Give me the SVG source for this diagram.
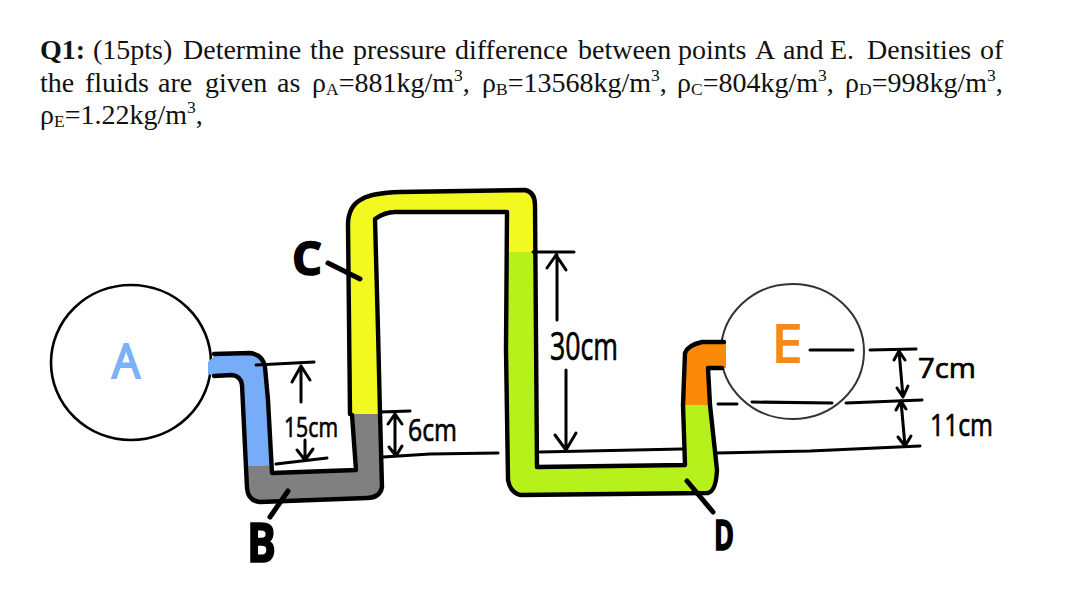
<svg xmlns="http://www.w3.org/2000/svg" width="1073" height="590" viewBox="0 0 1073 590">
<style>
.q{font-family:"Liberation Serif","Times New Roman",serif;font-size:28px;fill:#111}
.s{font-size:17.5px}
.o{fill:none;stroke:#000;stroke-width:4.4;stroke-linecap:round;stroke-linejoin:round}
.l{fill:none;stroke:#000;stroke-width:3;stroke-linecap:round;stroke-linejoin:round}
.p{fill:none;stroke:#000;stroke-width:5;stroke-linecap:round}
.h{font-family:"Open Sans","DejaVu Sans",sans-serif;fill:#000;stroke:#000;stroke-width:.7}
.b{font-weight:700;stroke-width:1.6}
</style>
<rect width="1073" height="590" fill="#fff"/>
<g id="question">
<text class="q" y="59"><tspan x="40" font-weight="700">Q1:</tspan><tspan x="93">(15pts)</tspan><tspan x="183">Determine</tspan><tspan x="310">the</tspan><tspan x="353">pressure</tspan><tspan x="455">difference</tspan><tspan x="578">between</tspan><tspan x="678">points</tspan><tspan x="755">A</tspan><tspan x="783">and</tspan><tspan x="830">E.</tspan><tspan x="867">Densities</tspan><tspan x="980">of</tspan></text>
<text class="q" y="92"><tspan x="40">the</tspan><tspan x="85">fluids</tspan><tspan x="158">are</tspan><tspan x="205">given</tspan><tspan x="277">as</tspan><tspan x="312">ρ</tspan><tspan class="s" dy="3">A</tspan><tspan dy="-3">=881kg/m</tspan><tspan class="s" dy="-11">3</tspan><tspan dy="11">,</tspan><tspan x="482">ρ</tspan><tspan class="s" dy="3">B</tspan><tspan dy="-3">=13568kg/m</tspan><tspan class="s" dy="-11">3</tspan><tspan dy="11">,</tspan><tspan x="677">ρ</tspan><tspan class="s" dy="3">C</tspan><tspan dy="-3">=804kg/m</tspan><tspan class="s" dy="-11">3</tspan><tspan dy="11">,</tspan><tspan x="845">ρ</tspan><tspan class="s" dy="3">D</tspan><tspan dy="-3">=998kg/m</tspan><tspan class="s" dy="-11">3</tspan><tspan dy="11">,</tspan></text>
<text class="q" y="124"><tspan x="40">ρ</tspan><tspan class="s" dy="3">E</tspan><tspan dy="-3">=1.22kg/m</tspan><tspan class="s" dy="-11">3</tspan><tspan dy="11">,</tspan></text>
</g>
<g id="tank-A">
<ellipse cx="131" cy="362.5" rx="80" ry="77.5" fill="none" stroke="#000" stroke-width="2.6"/>
<text class="h" x="112" y="378" font-size="47" style="fill:#7ab2f5;stroke:#7ab2f5;stroke-width:2" textLength="28" lengthAdjust="spacingAndGlyphs">A</text>
</g>
<g id="tank-E">
<ellipse cx="792.5" cy="351.5" rx="71.5" ry="67.5" fill="none" stroke="#333" stroke-width="2"/>
<text class="h" x="772" y="362" font-size="52" style="fill:#f68a14;stroke:#f68a14;stroke-width:2" textLength="30" lengthAdjust="spacingAndGlyphs">E</text>
</g>
<g id="tube">
<path id="fluid-A" fill="#76acf8" d="M208 362L214 356L250 354Q263 355 265 367L268 400L272 465L247 466L242 385Q241 376 232 375L214 376L208 374Z"/>
<path id="fluid-B" fill="#808080" d="M247 466L272 465L272 474L356 470L352 414L380 413L382 487Q380 498 367 498L260 502Q248 501 247 488Z"/>
<path id="fluid-C" fill="#f2f921" d="M350 414L348 225Q348 206 362 199Q372 193 400 192L525 191Q535 192 535 205V252H507L507 212L395 212Q385 212 375 219L378 414Z"/>
<path id="fluid-D" fill="#b7f11c" d="M507 252H535L537 467L685 465L683 405L710 405L717 470Q716 491 708 493L520 495Q510 492 508 480Z"/>
<path id="fluid-E" fill="#fb8a0a" d="M683 405L685 353Q688 345 702 342L726 342V368H708V405Z"/>
<path class="o" d="M214 354L250 353Q263 355 265 367L268 400L272 473L356 470L352 415"/>
<path class="o" d="M214 376L232 375Q241 376 242 385L247 488Q248 501 260 502L367 498Q380 498 382 487L380 413L378 330L375 219Q385 212 395 212L507 212L506 350L508 480Q510 492 520 495L708 493Q716 491 717 470L710 405L708 368H722"/>
<path class="o" d="M350 414L348 225Q348 206 362 199Q372 193 400 192L525 190Q535 192 535 205L537 467L685 465L683 405L685 353Q688 345 702 342L724 342"/>
</g>
<g id="connectors">
<path class="l" d="M256 365L314 362M301 402V366M292 382L301 366L310 380"/>
<path class="l" d="M276 464L327 458M305 440V460M297 450L305 460L313 449"/>
<path class="l" d="M380 412L410 411M383 457L430 454L498 453M395 413V456M388 424L395 414L402 424M389 447L396 456L402 446"/>
<path class="l" d="M533 252L574 252M557 255V320M547 268L556 255L566 270"/>
<path class="l" d="M566 370V450M555 435L566 450L576 433M540 452L682 449"/>
<path class="l" d="M717 453L810 451L920 446"/>
<path class="l" d="M810 350L853 350M870 350L916 349"/>
<path class="l" d="M718 404L737 404M752 402L832 403M846 403L922 400"/>
<path class="l" d="M899 351L903 397M894 360L899 351L905 360M897 388L903 397L908 386"/>
<path class="l" d="M901 401L905 446M896 410L901 401L906 409M898 437L905 446L911 436"/>
<path class="p" d="M288 491L270 517"/>
<path class="p" d="M328 263L360 279"/>
<path class="p" d="M687 481L713 512"/>
</g>
<g id="labels">
<text class="h b" x="292" y="275" font-size="47" textLength="30" lengthAdjust="spacingAndGlyphs">C</text>
<text class="h b" x="247" y="562" font-size="54" textLength="29" lengthAdjust="spacingAndGlyphs">B</text>
<text class="h b" x="714" y="550" font-size="42" textLength="20" lengthAdjust="spacingAndGlyphs">D</text>
<text class="h" x="284" y="437" font-size="28" textLength="54" lengthAdjust="spacingAndGlyphs">15cm</text>
<text class="h" x="408" y="441" font-size="31" textLength="49" lengthAdjust="spacingAndGlyphs">6cm</text>
<text class="h" x="550" y="360" font-size="38" textLength="68" lengthAdjust="spacingAndGlyphs">30cm</text>
<text class="h" x="918" y="378" font-size="28" textLength="58" lengthAdjust="spacingAndGlyphs">7cm</text>
<text class="h" x="930" y="436" font-size="31" textLength="63" lengthAdjust="spacingAndGlyphs">11cm</text>
</g>
</svg>
